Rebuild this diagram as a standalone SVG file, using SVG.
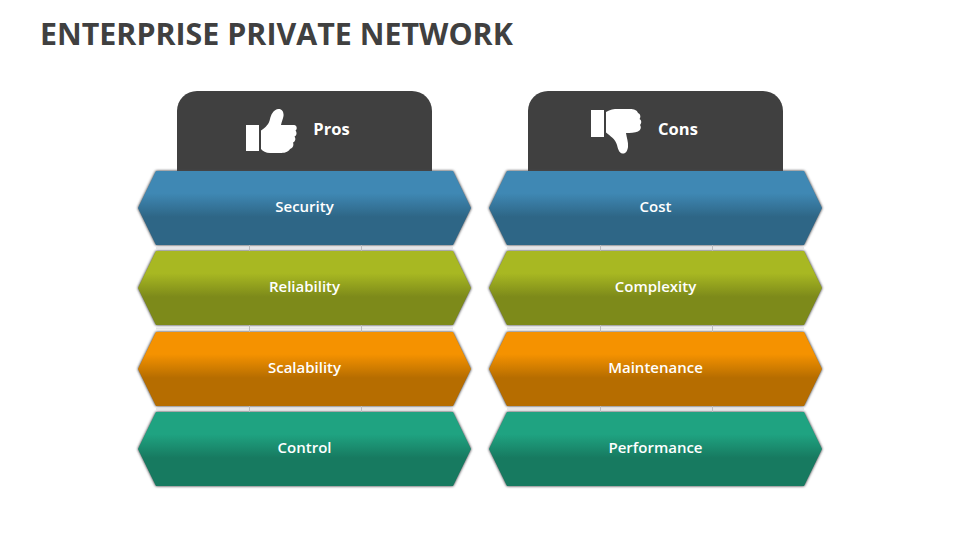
<svg xmlns="http://www.w3.org/2000/svg" width="960" height="540" viewBox="0 0 960 540">
<style>
text{font-family:"Open Sans","Liberation Sans",sans-serif;fill:#fff;text-anchor:middle}
.title{font-size:30.4px;font-weight:700;fill:#404040;text-anchor:start}
.lab{font-size:15px;font-weight:600}
.head{font-size:16.500px;font-weight:700}
.hdr{fill:#404040}
.hex{filter:url(#sh)}
.sep{fill:#e6e6e8}
.ln{stroke:#bcbcbe;stroke-width:1}
</style>
<defs>
<filter id="sh" x="-5%" y="-15%" width="110%" height="130%" color-interpolation-filters="sRGB"><feGaussianBlur in="SourceAlpha" stdDeviation="1.800"/><feComponentTransfer result="s"><feFuncA type="linear" slope="1.300"/></feComponentTransfer><feFlood flood-color="#4a4a4e"/><feComposite in2="s" operator="in"/><feMerge><feMergeNode/><feMergeNode in="SourceGraphic"/></feMerge></filter>
<linearGradient id="b" x1="0" y1="0" x2="0" y2="1"><stop offset=".3" stop-color="#3f88b4"/><stop offset=".62" stop-color="#2e6686"/></linearGradient>
<linearGradient id="g" x1="0" y1="0" x2="0" y2="1"><stop offset=".3" stop-color="#a8b822"/><stop offset=".62" stop-color="#7d8a1a"/></linearGradient>
<linearGradient id="o" x1="0" y1="0" x2="0" y2="1"><stop offset=".3" stop-color="#f59200"/><stop offset=".62" stop-color="#b66d00"/></linearGradient>
<linearGradient id="t" x1="0" y1="0" x2="0" y2="1"><stop offset=".3" stop-color="#1fa381"/><stop offset=".62" stop-color="#177a60"/></linearGradient>
<polygon id="hx" points="156,0 453,0 471,37 453,74 156,74 138,37"/>
</defs>
<text class="title" x="40" y="45">ENTERPRISE PRIVATE NETWORK</text>
<g id="pros-header">
<path class="hdr" d="M177,171V111A20,20 0 0 1 197,91H412A20,20 0 0 1 432,111V171Z"/>
<path fill="#fff" d="M246,125H259V151H246ZM261,130.500C266,127 269,124 270,119C271,115 273,110 278,109C282,108.500 284,112 283.500,116C283,119 281.500,122 281,125H294C297,125 297.500,129 295.500,130.500C297,132 297,135.500 294.500,136.500C296,138.500 295.500,141.500 293,142.500C294,145 293,148 290,149C288,152.500 284,153 280,153H270C266,153 262.500,151 261,149Z"/>
<text class="head" x="331.500" y="135">Pros</text>
</g>
<g id="cons-header">
<path class="hdr" d="M528,171V111A20,20 0 0 1 548,91H763A20,20 0 0 1 783,111V171Z"/>
<path fill="#fff" d="M591,110H604V137H591ZM606,112C610,109.500 614,109 618,109H630C634,109 637,110 638,113C640.500,114 641,117 639.500,119C641.500,120 642,123 640,125C641.500,127 641,130 638,131.500C635,133 630,133 626,133C626.500,137 628.500,142 628,147C627.500,151 625.500,154 622.500,153.500C619,153 618,149 617,145C615.500,139 610,136 606,132.500Z"/>
<text class="head" x="678" y="135">Cons</text>
</g>
<g id="pro-security"><use class="hex" href="#hx" y="171" fill="url(#b)"/><text class="lab" x="304.500" y="212">Security</text></g>
<g id="pro-reliability"><use class="hex" href="#hx" y="251" fill="url(#g)"/><text class="lab" x="304.500" y="292">Reliability</text></g>
<g id="pro-scalability"><use class="hex" href="#hx" y="332" fill="url(#o)"/><text class="lab" x="304.500" y="373">Scalability</text></g>
<g id="pro-control"><use class="hex" href="#hx" y="412" fill="url(#t)"/><text class="lab" x="304.500" y="453">Control</text></g>
<g id="con-cost"><use class="hex" href="#hx" x="351" y="171" fill="url(#b)"/><text class="lab" x="655.500" y="212">Cost</text></g>
<g id="con-complexity"><use class="hex" href="#hx" x="351" y="251" fill="url(#g)"/><text class="lab" x="655.500" y="292">Complexity</text></g>
<g id="con-maintenance"><use class="hex" href="#hx" x="351" y="332" fill="url(#o)"/><text class="lab" x="655.500" y="373">Maintenance</text></g>
<g id="con-performance"><use class="hex" href="#hx" x="351" y="412" fill="url(#t)"/><text class="lab" x="655.500" y="453">Performance</text></g>
<g id="connectors">
<path class="sep" d="M156,247H453V249H156ZM156,327.500H453V329.500H156ZM156,408H453V410H156ZM507,247H804V249H507ZM507,327.500H804V329.500H507ZM507,408H804V410H507Z"/>
<path class="ln" d="M249.500,245V251M361.500,245V251M249.500,325V332M361.500,325V332M249.500,406V412M361.500,406V412M600.500,245V251M712.500,245V251M600.500,325V332M712.500,325V332M600.500,406V412M712.500,406V412"/>
</g>
</svg>
